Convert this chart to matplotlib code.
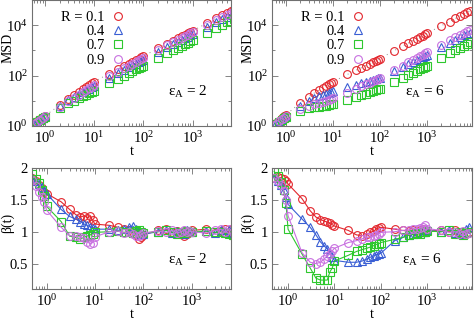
import matplotlib
matplotlib.use('Agg')
import matplotlib.pyplot as plt
from matplotlib.ticker import LogLocator, LogFormatterMathtext, NullFormatter, FixedLocator

plt.rcParams['font.family'] = ['Liberation Serif', 'DejaVu Serif']
plt.rcParams['mathtext.fontset'] = 'custom'
plt.rcParams['mathtext.rm'] = 'Liberation Serif'
plt.rcParams['mathtext.it'] = 'Liberation Serif:italic'

# temps pour le MSD
t_msd = [0.6, 0.7, 0.8, 0.9, 1, 2, 3, 4, 5, 6, 7, 8, 9, 10,
         20, 30, 40, 50, 60, 70, 80, 90, 100,
         200, 300, 400, 500, 600, 700, 800, 900, 1000,
         2000, 3000, 4000, 5000, 6000, 7000, 8000]

# MSD, epsilon_A = 2
msd_e2_r01 = [1.2, 1.5, 1.8, 2.1, 2.5, 6.6, 11.5, 17, 23, 29, 35, 42, 49, 57,
              118, 178, 240, 300, 360, 420, 470, 525, 590,
              1200, 1820, 2400, 3000, 3600, 4250, 4800, 5400, 6000,
              12300, 18600, 25000, 31500, 38000, 44500, 51000]
msd_e2_r04 = [1.2, 1.5, 1.8, 2.1, 2.45, 6.4, 10.5, 14.5, 18.5, 22.5, 26.5, 30.5, 34.5, 38.5,
              80, 122, 165, 210, 255, 300, 345, 385, 425,
              860, 1300, 1730, 2160, 2600, 3030, 3460, 3900, 4330,
              8700, 13000, 17400, 21700, 26000, 30400, 34700]
msd_e2_r07 = [1.15, 1.4, 1.7, 2.0, 2.3, 5.3, 7.9, 10.2, 12.5, 15, 17.6, 20.1, 22.4, 25,
              50, 74, 100, 126, 150, 174, 198, 226, 250,
              505, 760, 1010, 1270, 1530, 1790, 2040, 2300, 2560,
              5100, 7700, 10300, 12800, 15300, 17900, 20400]
msd_e2_r09 = [1.2, 1.45, 1.75, 2.05, 2.4, 5.8, 9.5, 13.4, 17.6, 22, 26.5, 31.5, 36.5, 42,
              92, 142, 192, 244, 296, 348, 400, 452, 505,
              1030, 1560, 2080, 2600, 3130, 3650, 4180, 4700, 5230,
              10500, 15800, 21000, 26300, 31600, 36800, 42000]

# MSD, epsilon_A = 6
msd_e6_r01 = [1.25, 1.6, 2.0, 2.4, 2.8, 8.2, 14.3, 20.4, 26.5, 32.7, 39, 45, 51.3, 57.6,
              110, 160, 205, 250, 295, 340, 385, 430, 475,
              980, 1480, 1960, 2440, 2920, 3400, 3880, 4350, 4800,
              9500, 14000, 18500, 23000, 27500, 32000, 36500]
msd_e6_r04 = [1.25, 1.55, 1.9, 2.2, 2.5, 6.3, 9.8, 12.8, 15.3, 17.5, 19.3, 20.9, 22.3, 23.6,
              34, 42, 49, 55, 61, 67, 73, 78, 83,
              150, 215, 280, 345, 410, 475, 540, 600, 660,
              1300, 1950, 2600, 3250, 3900, 4500, 5100]
msd_e6_r07 = [1.15, 1.4, 1.7, 2.0, 2.2, 4.0, 5.0, 5.5, 5.8, 6.1, 6.4, 6.7, 7.1, 7.6,
              10.5, 13.5, 16.2, 18.8, 21.3, 23.7, 26, 28.3, 30.5,
              55, 80, 104, 128, 152, 176, 200, 224, 248,
              500, 760, 1020, 1280, 1540, 1800, 2060]
msd_e6_r09 = [1.2, 1.5, 1.8, 2.1, 2.4, 4.8, 6.3, 7.4, 8.3, 9.2, 10.1, 11, 11.8, 12.6,
              21, 29, 37, 45, 52, 59, 66, 73, 80,
              165, 250, 335, 420, 505, 590, 675, 760, 845,
              1700, 2500, 3300, 4100, 4900, 5700, 6500]

# temps pour beta(t)
t_beta = [0.5, 0.6, 0.7, 0.8, 0.9, 1, 2, 3, 4, 5, 6, 7, 8, 9, 10,
          20, 30, 40, 50, 60, 70, 80, 90, 100,
          200, 300, 400, 500, 600, 700, 800, 900, 1000,
          2000, 3000, 4000, 5000, 6000, 7000, 8000]

# beta(t), epsilon_A = 2
beta_e2_r01 = [1.84, 1.80, 1.74, 1.68, 1.63, 1.60,
               1.47, 1.35, 1.27, 1.23, 1.25, 1.22, 1.24, 1.18, 1.12,
               1.10, 1.07, 1.05, 1.03, 0.98, 0.95, 0.89, 0.91, 0.95,
               1.02, 1.04, 0.99, 1.01, 0.96, 0.94, 0.97, 1.00, 1.02,
               1.04, 0.98, 1.01, 1.05, 0.99, 1.06, 0.96]
beta_e2_r04 = [1.84, 1.79, 1.75, 1.70, 1.66, 1.60,
               1.35, 1.24, 1.20, 1.16, 1.12, 1.10, 1.08, 1.06, 1.04,
               1.04, 1.02, 1.05, 1.07, 1.09, 1.05, 1.00, 0.97, 0.96,
               1.00, 1.02, 0.98, 1.01, 0.99, 0.97, 1.02, 1.00, 0.99,
               1.01, 0.98, 1.02, 1.00, 1.03, 0.98, 0.97]
beta_e2_r07 = [1.90, 1.83, 1.76, 1.66, 1.56, 1.40,
               1.16, 0.93, 0.91, 0.89, 0.91, 0.94, 0.95, 0.97, 0.99,
               1.00, 1.01, 0.99, 1.00, 0.98, 1.01, 1.02, 0.99, 0.98,
               1.00, 1.02, 0.99, 0.97, 1.00, 0.98, 1.01, 0.99, 1.00,
               1.01, 0.99, 1.00, 0.98, 0.97, 0.95, 0.93]
beta_e2_r09 = [1.82, 1.72, 1.63, 1.54, 1.47, 1.34,
               1.07, 0.94, 0.93, 0.92, 0.90, 0.84, 0.81, 0.83, 0.92,
               1.00, 1.01, 0.98, 1.00, 0.97, 0.94, 0.93, 0.95, 0.98,
               1.01, 0.99, 1.02, 0.98, 1.00, 1.03, 0.99, 1.01, 1.00,
               0.98, 1.02, 1.04, 0.99, 1.05, 1.00, 0.97]

# beta(t), epsilon_A = 6
beta_e6_r01 = [1.85, 1.86, 1.85, 1.83, 1.80, 1.75,
               1.52, 1.33, 1.23, 1.19, 1.17, 1.15, 1.13, 1.11, 1.09,
               1.02, 0.95, 0.94, 0.96, 0.99, 1.01, 1.04, 1.06, 1.07,
               1.04, 1.02, 1.01, 1.03, 1.00, 1.02, 1.04, 1.01, 1.00,
               1.03, 1.00, 1.02, 0.98, 0.95, 0.97, 1.00]
beta_e6_r04 = [1.85, 1.80, 1.74, 1.65, 1.55, 1.43,
               1.20, 1.07, 0.95, 0.84, 0.78, 0.73, 0.66, 0.60, 0.55,
               0.52, 0.52, 0.54, 0.57, 0.60, 0.62, 0.64, 0.65, 0.66,
               0.86, 0.91, 0.95, 0.97, 0.98, 1.00, 0.99, 1.00, 1.02,
               1.00, 1.03, 0.98, 0.97, 1.00, 1.04, 1.08]
beta_e6_r07 = [1.95, 1.87, 1.78, 1.65, 1.45, 1.04,
               0.65, 0.43, 0.27, 0.24, 0.24, 0.24, 0.37, 0.43, 0.54,
               0.63, 0.69, 0.72, 0.74, 0.76, 0.78, 0.80, 0.81, 0.83,
               0.88, 0.91, 0.95, 0.96, 0.98, 0.97, 1.00, 0.99, 1.01,
               1.00, 1.02, 0.97, 1.00, 0.95, 0.98, 1.00]
beta_e6_r09 = [1.85, 1.80, 1.74, 1.64, 1.50, 1.25,
               0.67, 0.52, 0.50, 0.52, 0.57, 0.62, 0.65, 0.70, 0.74,
               0.83, 0.86, 0.89, 0.91, 0.92, 0.93, 0.95, 0.97, 0.99,
               1.00, 1.02, 1.03, 1.05, 1.04, 1.06, 1.08, 1.10, 1.05,
               1.02, 0.99, 1.00, 0.97, 1.01, 0.96, 0.98]

labels = ['R = 0.1', '0.4', '0.7', '0.9']
colors = ['#e3262d', '#3a5fd4', '#2ec82e', '#c870e0']
markers = ['o', '^', 's', 'o']
frame_col = '#707070'


def style_axes(ax, xmin, xmax):
    ax.set_xscale('log')
    ax.set_xlim(xmin, xmax)
    ax.xaxis.set_major_locator(FixedLocator([1, 10, 100, 1000]))
    ax.xaxis.set_major_formatter(LogFormatterMathtext())
    ax.xaxis.set_minor_locator(LogLocator(base=10, subs=range(2, 10), numticks=20))
    ax.xaxis.set_minor_formatter(NullFormatter())
    ax.tick_params(which='both', direction='in', top=True, right=True,
                   color=frame_col, labelsize=10.5, width=0.6)
    ax.tick_params(which='major', length=4, pad=3)
    ax.tick_params(which='minor', length=2)
    for s in ax.spines.values():
        s.set_color(frame_col)
        s.set_linewidth(0.8)


fig = plt.figure(figsize=(4.74, 3.22), dpi=100)
ax1 = fig.add_axes([0.0675, 0.609, 0.4198, 0.391])
ax2 = fig.add_axes([0.5738, 0.609, 0.4219, 0.391])
ax3 = fig.add_axes([0.0675, 0.1025, 0.4198, 0.3755])
ax4 = fig.add_axes([0.5738, 0.1025, 0.4219, 0.3755])

# panneaux du haut : MSD
for ax, series, eps, xmin, xmax in [(ax1, [msd_e2_r01, msd_e2_r04, msd_e2_r07, msd_e2_r09], 2, 0.55, 6000),
                                    (ax2, [msd_e6_r01, msd_e6_r04, msd_e6_r07, msd_e6_r09], 6, 0.5, 9000)]:
    ax.plot(t_msd, series[0], ls=(0, (1, 4)), color='#909090', lw=0.7, zorder=1)
    for vals, c, m, lab in zip(series, colors, markers, labels):
        ax.plot(t_msd, vals, ls='none', marker=m, ms=5.6, mfc='none', mec=c,
                mew=0.8, label=lab)
    ax.set_yscale('log')
    ax.set_ylim(1, 1e5)
    ax.yaxis.set_major_locator(FixedLocator([1, 1e2, 1e4]))
    ax.yaxis.set_major_formatter(LogFormatterMathtext())
    ax.yaxis.set_minor_locator(FixedLocator([10, 1e3, 1e5]))
    ax.yaxis.set_minor_formatter(NullFormatter())
    style_axes(ax, xmin, xmax)
    ax.set_xlabel('t', fontsize=10.5, labelpad=-1)
    ax.set_ylabel('MSD', fontsize=10)
    ax.yaxis.set_label_coords(-0.088, 0.62)
    ax.legend(loc='upper left', bbox_to_anchor=(0.11, 0.975), markerfirst=False,
              frameon=False, handlelength=0.8, handletextpad=0.5,
              labelspacing=0.08, borderpad=0, fontsize=10.5)
    ax.text(0.88 if eps == 2 else 0.865, 0.27, 'ε$_{\\mathrm{A}}$ = %d' % eps,
            transform=ax.transAxes, ha='right', va='center', fontsize=11)

# panneaux du bas : beta(t)
for ax, series, eps, xmin, xmax in [(ax3, [beta_e2_r01, beta_e2_r04, beta_e2_r07, beta_e2_r09], 2, 0.5, 6500),
                                    (ax4, [beta_e6_r01, beta_e6_r04, beta_e6_r07, beta_e6_r09], 6, 0.45, 9300)]:
    for vals, c, m in zip(series, colors, markers):
        ax.plot(t_beta, vals, color=c, lw=0.8, marker=m, ms=5.6, mfc='none',
                mec=c, mew=0.8)
    ax.set_ylim(0.1, 2)
    ax.set_yticks([0.5, 1, 1.5, 2])
    ax.set_yticklabels(['0.5', '1', '1.5', '2'])
    style_axes(ax, xmin, xmax)
    ax.set_xlabel('t', fontsize=10.5, labelpad=-1)
    ax.set_ylabel('β(t)', fontsize=10)
    ax.yaxis.set_label_coords(-0.088, 0.55)
    ax.text(0.88 if eps == 2 else 0.85, 0.24, 'ε$_{\\mathrm{A}}$ = %d' % eps,
            transform=ax.transAxes, ha='right', va='center', fontsize=11)

fig.savefig('out.png', dpi=100)
